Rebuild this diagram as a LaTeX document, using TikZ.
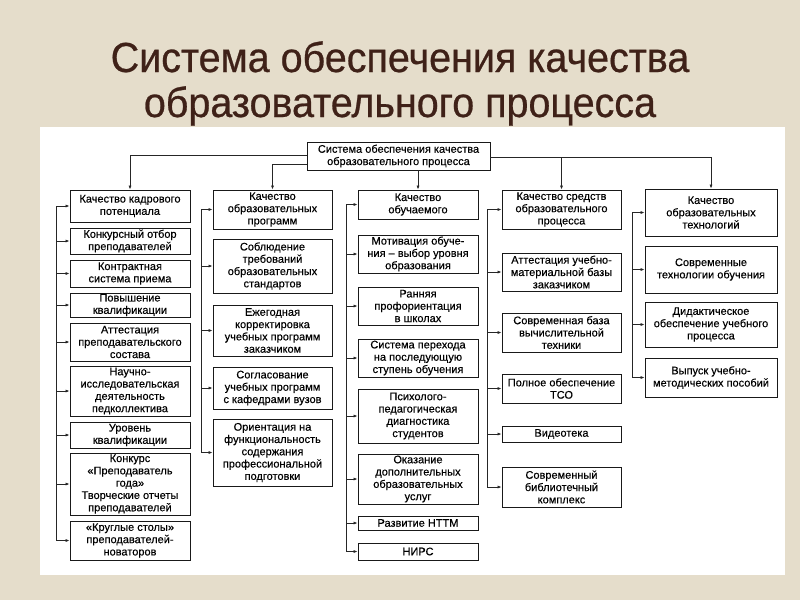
\documentclass[tikz,border=0pt]{standalone}
\usepackage{fontspec}
\setmainfont{Liberation Sans}
\newfontfamily\titlefont[FakeStretch=0.94,FakeBold=0.6]{Liberation Sans}
\newfontfamily\boxfont[FakeBold=0.3]{Liberation Sans}
\usetikzlibrary{arrows.meta}
\definecolor{bgbeige}{HTML}{E5DDCB}
\definecolor{titlebrown}{HTML}{3F2118}
\tikzset{
  x=1pt, y=-1pt,
  box/.style={draw=black!90, line width=0.8pt, fill=white, inner sep=0pt, align=center,
    font=\boxfont\fontsize{11}{12.3}\selectfont},
  arr/.style={draw=black!85, line width=0.7pt, -{Latex[length=4pt,width=3pt]}},
  bus/.style={draw=black!85, line width=0.7pt},
  ttl/.style={font=\titlefont\fontsize{42}{46}\selectfont, text=titlebrown, anchor=base, inner sep=0pt}
}
\newcommand{\bx}[6]{\node[box, minimum width={(#4)-(#2)}, minimum height={(#5)-(#3)}] (#1) at ({((#2)+(#4))/2},{((#3)+(#5))/2}) {#6};}
\begin{document}
\begin{tikzpicture}
\fill[bgbeige] (0,0) rectangle (800,600);
\useasboundingbox (0,0) rectangle (800,600);
\fill[white] (40,127) rectangle (785,575);
\node[ttl] (title1) at (400,72) {Система обеспечения качества};
\node[ttl] (title2) at (400,117) {образовательного процесса};
% top
\bx{top}{307}{142}{490}{170}{Система обеспечения качества\\образовательного процесса}
% column 1
\bx{k1}{70}{190}{190}{222}{Качество кадрового\\потенциала}
\bx{k2}{70}{228}{190}{254}{Конкурсный отбор\\преподавателей}
\bx{k3}{70}{260}{190}{287}{Контрактная\\система приема}
\bx{k4}{70}{293}{190}{317}{Повышение\\квалификации}
\bx{k5}{70}{323}{190}{361}{Аттестация\\преподавательского\\состава}
\bx{k6}{70}{366}{190}{416}{Научно-\\исследовательская\\деятельность\\педколлектива}
\bx{k7}{70}{422}{190}{448}{Уровень\\квалификации}
\bx{k8}{70}{453}{190}{515}{Конкурс\\«Преподаватель\\года»\\Творческие отчеты\\преподавателей}
\bx{k9}{70}{521}{190}{560}{«Круглые столы»\\преподавателей-\\новаторов}
% column 2
\bx{p1}{213}{190}{332}{229}{Качество\\образовательных\\программ}
\bx{p2}{213}{239}{332}{293}{Соблюдение\\требований\\образовательных\\стандартов}
\bx{p3}{213}{305}{332}{356}{Ежегодная\\корректировка\\учебных программ\\заказчиком}
\bx{p4}{213}{367}{332}{409}{Согласование\\учебных программ\\с кафедрами вузов}
\bx{p5}{213}{419}{332}{486}{Ориентация на\\функциональность\\содержания\\профессиональной\\подготовки}
% column 3
\bx{o1}{358}{190}{478}{219}{Качество\\обучаемого}
\bx{o2}{358}{235}{478}{273}{Мотивация обуче-\\ния – выбор уровня\\образования}
\bx{o3}{358}{287}{478}{325}{Ранняя\\профориентация\\в школах}
\bx{o4}{358}{339}{478}{377}{Система перехода\\на последующую\\ступень обучения}
\bx{o5}{358}{389}{478}{443}{Психолого-\\педагогическая\\диагностика\\студентов}
\bx{o6}{358}{454}{478}{504}{Оказание\\дополнительных\\образовательных\\услуг}
\bx{o7}{358}{516}{478}{530}{Развитие НТТМ}
\bx{o8}{358}{543}{478}{560}{НИРС}
% column 4
\bx{s1}{502}{190}{621}{229}{Качество средств\\образовательного\\процесса}
\bx{s2}{502}{253}{621}{291}{Аттестация учебно-\\материальной базы\\заказчиком}
\bx{s3}{502}{313}{621}{352}{Современная база\\вычислительной\\техники}
\bx{s4}{502}{374}{621}{403}{Полное обеспечение\\ТСО}
\bx{s5}{502}{426}{621}{442}{Видеотека}
\bx{s6}{502}{467}{621}{507}{Современный\\библиотечный\\комплекс}
% column 5
\bx{t1}{645}{189}{777}{236}{Качество\\образовательных\\технологий}
\bx{t2}{645}{246}{777}{293}{Современные\\технологии обучения}
\bx{t3}{645}{302}{777}{347}{Дидактическое\\обеспечение учебного\\процесса}
\bx{t4}{645}{358}{777}{397}{Выпуск учебно-\\методических пособий}
% bus coordinates
\coordinate (b1) at (56,0);
\coordinate (b2) at (201,0);
\coordinate (b3) at (346,0);
\coordinate (b4) at (487,0);
\coordinate (b5) at (632,0);
% top connectors
\draw[arr] ([yshift=1pt]top.west) -| (k1.north);
\draw[arr] ([yshift=-8pt]top.west) -| (p1.north);
\draw[arr] (top.south -| o1.north) -- (o1.north);
\coordinate (tr) at ([yshift=-1pt]top.east);
\draw[arr] (tr) -| (t1.north);
\draw[arr] (s1.north |- tr) -- (s1.north);
% buses
\draw[bus] (b1 |- k1.west) -- (b1 |- k9.west);
\foreach \n in {k1,k2,k3,k4,k5,k6,k7,k8,k9} \draw[arr] (b1 |- \n.west) -- (\n.west);
\draw[bus] (b2 |- p1.west) -- (b2 |- p5.west);
\foreach \n in {p1,p2,p3,p4,p5} \draw[arr] (b2 |- \n.west) -- (\n.west);
\draw[bus] (b3 |- o1.west) -- (b3 |- o8.west);
\foreach \n in {o1,o2,o3,o4,o5,o6,o7,o8} \draw[arr] (b3 |- \n.west) -- (\n.west);
\draw[bus] (b4 |- s1.west) -- (b4 |- s6.west);
\foreach \n in {s1,s2,s3,s4,s5,s6} \draw[arr] (b4 |- \n.west) -- (\n.west);
\draw[bus] (b5 |- t1.west) -- (b5 |- t4.west);
\foreach \n in {t1,t2,t3,t4} \draw[arr] (b5 |- \n.west) -- (\n.west);
\end{tikzpicture}
\end{document}
